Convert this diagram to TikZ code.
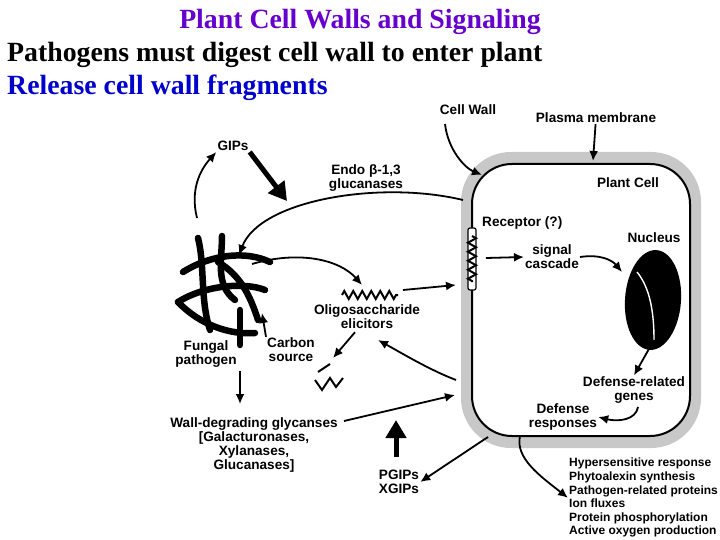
\documentclass[tikz,border=0pt]{standalone}
\usepackage{fontspec}
\setmainfont{Liberation Serif}
\newfontfamily\lab{Liberation Sans}
\usetikzlibrary{arrows.meta,positioning,calc,decorations.pathmorphing}
\definecolor{titlepurple}{RGB}{102,0,204}
\definecolor{titleblue}{RGB}{0,0,204}
\definecolor{wallgray}{RGB}{200,200,200}
\begin{document}
\begin{tikzpicture}[
      x=1pt,y=-1pt,
      every node/.style={font=\lab\bfseries\fontsize{13.6}{14}\selectfont,align=center,inner sep=1pt},
      ttl/.style={font=\bfseries\fontsize{27.8}{29}\selectfont,inner sep=0pt},
      arr/.style={line width=1.8pt,-{Latex[length=10pt,width=9pt]}},
      bigarr/.style={line width=5pt,-{Triangle[length=18pt,width=20pt]}},
      hypha/.style={line width=6.5pt,line cap=round},
      zz/.style={line width=2pt,decorate,decoration={zigzag,segment length=9pt,amplitude=4pt}}
  ]
  \useasboundingbox (0,0) rectangle (720,540);

  % ===================== titles =====================
  \node[ttl,text=titlepurple] (t1) at (360,22) {Plant Cell Walls and Signaling};
  \node[ttl,anchor=west] (t2) at (7,55) {Pathogens must digest cell wall to enter plant};
  \node[ttl,anchor=west,text=titleblue] (t3) at (7,88) {Release cell wall fragments};

  % ===================== plant cell =====================
  \fill[wallgray,rounded corners=50pt] (461,152) rectangle (701,448);
  \draw[line width=2pt,fill=white,rounded corners=40pt] (472,164) rectangle (690,436);
  \node[draw,line width=1.2pt,fill=white,rounded corners=2pt,minimum width=8pt,minimum height=62pt,inner sep=0pt] (rec) at (472,259) {};
  \draw[zz] (472,236) -- (472,282);
  \fill[black,rotate around={-4:(653,300)}] (653,300) ellipse (28 and 50);
  \coordinate (nuc) at (654,340);
  \draw[white,line width=1.4pt] (637,272) .. controls (650,288) and (654,312) .. (nuc);

  \node (cw) at (468,110) {Cell Wall};
  \node (pm) at (596,118) {Plasma membrane};
  \node (pc) at (628,183) {Plant Cell};
  \node[anchor=west] (rl) at (481,223) {Receptor (?)};
  \node (sig) at (552,257) {signal\\cascade};
  \node (nl) at (654,238) {Nucleus};
  \node (genes) at (634,390) {Defense-related\\genes};
  \node (resp) at (563,417) {Defense\\responses};
  \node[anchor=north west,align=left,font=\lab\bfseries\fontsize{12}{13.6}\selectfont] (list) at (568,457)
      {Hypersensitive response\\Phytoalexin synthesis\\Pathogen-related proteins\\Ion fluxes\\Protein phosphorylation\\Active oxygen production};

  \coordinate (cwend) at (482,175);
  \coordinate (pmend) at (593,161);
  \coordinate (recout) at (486,258);
  \coordinate (nuctop) at (622,272);
  \coordinate (respstart) at (520,436);
  \draw[arr] (445,124) .. controls (448,150) and (465,168) .. (cwend);
  \draw[arr] (pm) -- (pmend);
  \draw[arr] (recout) -- (sig.west);
  \draw[arr] (sig.east) .. controls (600,254) and (612,260) .. (nuctop);
  \draw[arr] (nuc) -- (genes.north);
  \draw[arr] (638,407) .. controls (636,420) and (618,422) .. (resp.east);
  \draw[arr] (respstart) .. controls (515,458) and (540,476) .. (list.west);

  % ===================== fungus side =====================
  \draw[hypha] (183,272) .. controls (210,255) and (245,250) .. (270,262);
  \draw[hypha] (198,238) .. controls (205,265) and (200,300) .. (210,330);
  \draw[hypha] (222,236) .. controls (222,260) and (215,285) .. (235,300);
  \draw[hypha] (178,302) .. controls (205,285) and (245,282) .. (265,290);
  \draw[hypha] (178,302) .. controls (200,325) and (230,335) .. (255,333);
  \draw[hypha] (218,262) .. controls (240,275) and (250,295) .. (258,320);
  \draw[hypha] (240,310) -- (240,345);
  \coordinate (fung) at (239,255);
  \coordinate (fungtop) at (197,218);
  \coordinate (fungright) at (252,264);
  \coordinate (fungside) at (262,313);

  \node (gips) at (233,146) {GIPs};
  \node (endo) at (366,178) {Endo β-1,3\\glucanases};
  \node (oligo) at (367,317) {Oligosaccharide\\elicitors};
  \node (carb) at (291,350) {Carbon\\source};
  \node (fp) at (206,354) {Fungal\\pathogen};
  \node (wdg) at (254,445) {Wall-degrading glycanses\\{[}Galacturonases,\\Xylanases,\\Glucanases{]}};
  \node (pgip) at (399,482) {PGIPs\\XGIPs};

  \draw[zz] (342,295) -- (398,295);
  \draw[line width=2pt] (318,372) -- (330,364) (315,380) -- (322,390) -- (330,378) -- (336,387) -- (343,378);

  \coordinate (wallhit) at (463,200);
  \coordinate (cellL1) at (456,285);
  \coordinate (cellL2) at (455,395);
  \coordinate (cellL3) at (456,380);
  \coordinate (cellB) at (488,437);
  \coordinate (carbend) at (333,358);

  \draw[arr] (fungtop) .. controls (190,190) and (200,170) .. (gips.south west);
  \draw[bigarr] (gips.south east) -- (287,201);
  \draw[arr] (wallhit) .. controls (380,180) and (260,200) .. (fung);
  \draw[arr] (fungright) .. controls (300,250) and (340,260) .. (362,285);
  \draw[arr] (403,290) -- (cellL1);
  \draw[arr] (oligo.south) ++(-12,2) -- (carbend);
  \draw[arr] (carb.north west) -- (fungside);
  \draw[arr] (fp.south) ++(34,2) -- (240,404);
  \draw[arr] (344,421) -- (cellL2);
  \draw[arr] (cellL3) .. controls (430,370) and (405,355) .. (378,340);
  \draw[bigarr] (396,457) -- (396,420);
  \draw[arr] (cellB) -- (pgip.east);
\end{tikzpicture}
\end{document}
